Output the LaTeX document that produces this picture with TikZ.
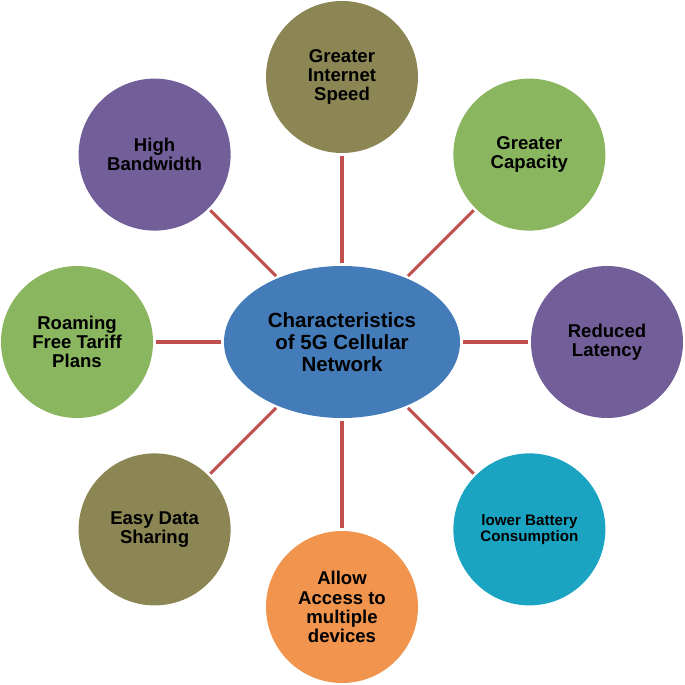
\documentclass[tikz,border=0pt]{standalone}
\usepackage{fontspec}
\setmainfont{Liberation Sans}
\usepackage{tikz}
\usetikzlibrary{shapes.geometric}

\definecolor{hubblue}{HTML}{437CB8}
\definecolor{olivec}{HTML}{8C8654}
\definecolor{greenc}{HTML}{8BB660}
\definecolor{purplec}{HTML}{725E99}
\definecolor{tealc}{HTML}{1BA4C2}
\definecolor{orangec}{HTML}{F0944E}
\definecolor{spoke}{HTML}{C0504D}

\begin{document}
\begin{tikzpicture}[
        font=\fontsize{13.2}{13.6}\selectfont\bfseries,
        hub/.style={ellipse, fill=hubblue, align=center, inner sep=0pt,
            minimum width=5.9cm, minimum height=3.8cm,
            font=\fontsize{14.6}{15.8}\selectfont\bfseries},
        feat/.style={circle, align=center, inner sep=0pt, minimum size=3.8cm},
        link/.style={draw=spoke, line width=2.2pt, shorten <=1.8pt, shorten >=1.8pt},
    ]
        \useasboundingbox (-8.55,-8.575) rectangle (8.575,8.55);

        % centre
        \node[hub] (hub) {Characteristics\\of 5G Cellular\\Network};

        % ring of characteristics
        \node[feat, fill=olivec] (speed) at (90:6.625) {Greater\\Internet\\Speed};
        \node[feat, fill=greenc] (capacity) at (45:6.625) {Greater\\Capacity};
        \node[feat, fill=purplec] (latency) at (0:6.625) {Reduced\\Latency};
        \node[feat, fill=tealc, font=\fontsize{10.8}{11.8}\selectfont\bfseries]
            (battery) at (-45:6.625) {lower Battery\\Consumption};
        \node[feat, fill=orangec] (access) at (-90:6.625) {Allow\\Access to\\multiple\\devices};
        \node[feat, fill=olivec] (sharing) at (-135:6.625) {Easy Data\\Sharing};
        \node[feat, fill=greenc] (roaming) at (180:6.625) {Roaming\\Free Tariff\\Plans};
        \node[feat, fill=purplec] (bandwidth) at (135:6.625) {High\\Bandwidth};

        % spokes
        \foreach \n in {speed, capacity, latency, battery, access, sharing, roaming, bandwidth}
            \draw[link] (\n) -- (hub);
    \end{tikzpicture}
\end{document}
